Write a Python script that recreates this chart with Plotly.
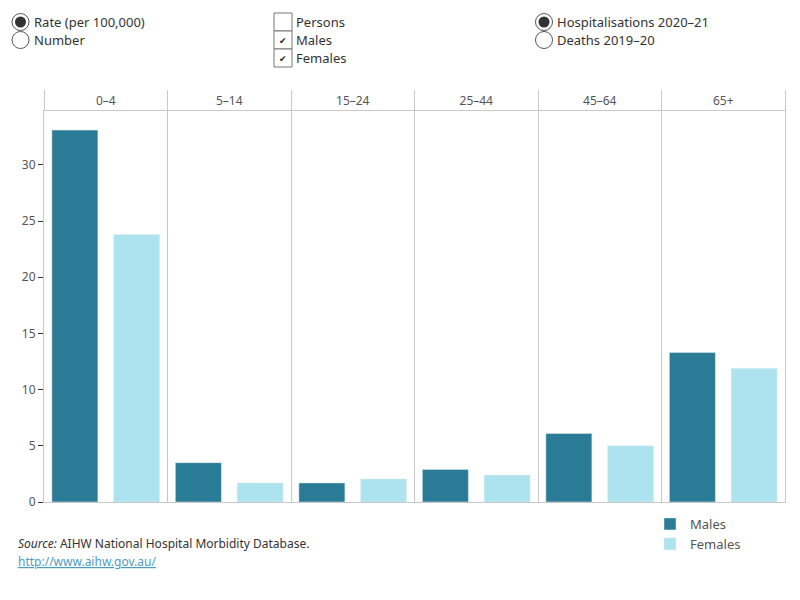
import plotly.graph_objects as go

age_groups = ["0–4", "5–14", "15–24", "25–44", "45–64", "65+"]
males = [33.1, 3.5, 1.7, 2.9, 6.1, 13.3]
females = [23.8, 1.7, 2.05, 2.4, 5.0, 11.9]
y_ticks = [0, 5, 10, 15, 20, 25, 30]

MALE_COLOR = "#2a7b96"
FEMALE_COLOR = "#ace3ee"
GRID = "#c8c8c8"
TXT = "#333333"
FONT = "Noto Sans"

# page body has an 8px margin; figure coordinates are screen minus 8
OFF = 8
W, H = 784, 584
L, T = 44 - OFF, 111 - OFF
R = W - (785 - OFF)
B = H - (502 - OFF)
PW, PH = W - L - R, H - T - B


def px(x):
    return (x - OFF - L) / PW


def py(y):
    return (H - B - (y - OFF)) / PH


fig = go.Figure()
fig.add_trace(go.Bar(x=age_groups, y=males, name="Males", marker_color=MALE_COLOR))
fig.add_trace(go.Bar(x=age_groups, y=females, name="Females", marker_color=FEMALE_COLOR))

shapes = []
annotations = []

# Radio buttons (left)
for cy, label, on in [(22, "Rate (per 100,000)", True), (40, "Number", False)]:
    shapes.append(dict(type="circle", xref="paper", yref="paper",
                       x0=px(12), x1=px(29), y0=py(cy + 8.5), y1=py(cy - 8.5),
                       line=dict(color="#555555", width=1), fillcolor="white"))
    if on:
        shapes.append(dict(type="circle", xref="paper", yref="paper",
                           x0=px(15), x1=px(26), y0=py(cy + 5.5), y1=py(cy - 5.5),
                           line=dict(width=0), fillcolor="#333333"))
    annotations.append(dict(text=label, xref="paper", yref="paper", x=px(32), y=py(cy),
                            xanchor="left", yanchor="middle", showarrow=False,
                            font=dict(size=13, color=TXT, family=FONT)))

# Radio buttons (right)
for cy, label, on in [(22, "Hospitalisations 2020–21", True), (40, "Deaths 2019–20", False)]:
    shapes.append(dict(type="circle", xref="paper", yref="paper",
                       x0=px(535.5), x1=px(552.5), y0=py(cy + 8.5), y1=py(cy - 8.5),
                       line=dict(color="#555555", width=1), fillcolor="white"))
    if on:
        shapes.append(dict(type="circle", xref="paper", yref="paper",
                           x0=px(538.5), x1=px(549.5), y0=py(cy + 5.5), y1=py(cy - 5.5),
                           line=dict(width=0), fillcolor="#333333"))
    annotations.append(dict(text=label, xref="paper", yref="paper", x=px(555), y=py(cy),
                            xanchor="left", yanchor="middle", showarrow=False,
                            font=dict(size=13, color=TXT, family=FONT)))

# Checkboxes
for top, label, on in [(13, "Persons", False), (31, "Males", True), (49, "Females", True)]:
    shapes.append(dict(type="rect", xref="paper", yref="paper",
                       x0=px(274), x1=px(292), y0=py(top + 18), y1=py(top),
                       line=dict(color="#777777", width=1), fillcolor="white"))
    if on:
        annotations.append(dict(text="✔", xref="paper", yref="paper", x=px(283), y=py(top + 10),
                                xanchor="center", yanchor="middle", showarrow=False,
                                font=dict(size=9, color="#222222", family="DejaVu Sans")))
    annotations.append(dict(text=label, xref="paper", yref="paper", x=px(294), y=py(top + 9),
                            xanchor="left", yanchor="middle", showarrow=False,
                            font=dict(size=13, color=TXT, family=FONT)))

# Source
annotations.append(dict(text="<i>Source:</i> AIHW National Hospital Morbidity Database.",
                        xref="paper", yref="paper", x=px(16), y=py(543),
                        xanchor="left", yanchor="middle", showarrow=False,
                        font=dict(size=12, color=TXT, family=FONT)))
annotations.append(dict(text="<u>http://www.aihw.gov.au/</u>",
                        xref="paper", yref="paper", x=px(16), y=py(561),
                        xanchor="left", yanchor="middle", showarrow=False,
                        font=dict(size=12, color="#4d9cc0", family=FONT)))

fig.update_layout(
    width=W, height=H,
    margin=dict(l=L, r=R, t=T, b=B, pad=0),
    paper_bgcolor="white", plot_bgcolor="white",
    font=dict(family=FONT, size=12, color="#555555"),
    barmode="group", bargap=0.0, bargroupgap=0.255,
    showlegend=True,
    legend=dict(x=px(650), y=py(509), xanchor="left", yanchor="top",
                font=dict(size=13, color="#555555", family=FONT),
                itemwidth=30, tracegroupgap=0, bgcolor="rgba(0,0,0,0)"),
    shapes=shapes,
    annotations=annotations,
    xaxis=dict(type="category", side="top", tickson="boundaries",
               ticks="outside", ticklen=20, tickcolor=GRID, tickwidth=1,
               showgrid=True, gridcolor=GRID, gridwidth=1,
               showline=True, linecolor=GRID, linewidth=1, mirror=True,
               tickfont=dict(size=12, color="#555555"),
               ticklabelstandoff=0, fixedrange=True),
    yaxis=dict(range=[0, 34.8], tickvals=y_ticks, ticks="outside", ticklen=5,
               tickcolor="#333333", showgrid=False, zeroline=False,
               showline=True, linecolor=GRID, linewidth=1, mirror=True,
               tickfont=dict(size=12, color="#555555"), fixedrange=True),
)

fig.write_html("out.html")
